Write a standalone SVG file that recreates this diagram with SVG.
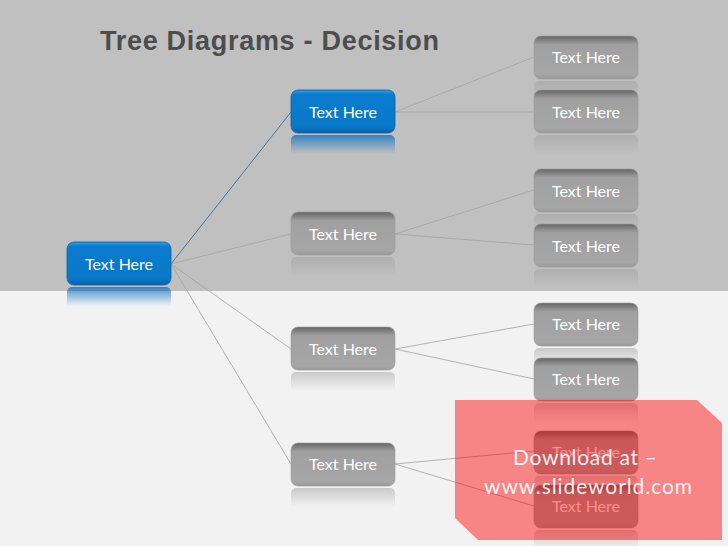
<svg xmlns="http://www.w3.org/2000/svg" width="728" height="546" viewBox="0 0 728 546">
<style>
.t{font-family:"Lato","Open Sans","Liberation Sans",sans-serif;font-size:16px;fill:#fff;text-anchor:middle}
.r{font-family:"Lato","Open Sans","Liberation Sans",sans-serif;font-size:16px;fill:url(#rt);text-anchor:middle}
.l{fill:none;stroke:#a2a2a2;stroke-width:.8}
.g{stroke:#9a9a9a;stroke-width:.6;fill:url(#gg)}
.b{stroke:#0b5f9f;stroke-width:.8;fill:url(#bg)}
</style>
<defs>
<linearGradient id="gg" x1="0" y1="0" x2="0" y2="1"><stop offset="0" stop-color="#666"/><stop offset=".2" stop-color="#a0a0a0"/><stop offset=".9" stop-color="#a6a6a6"/><stop offset="1" stop-color="#999"/></linearGradient>
<linearGradient id="bg" x1="0" y1="0" x2="0" y2="1"><stop offset="0" stop-color="#3a9be0"/><stop offset=".1" stop-color="#0a7ccf"/><stop offset=".85" stop-color="#0a78c8"/><stop offset="1" stop-color="#0a62a8"/></linearGradient>
<linearGradient id="gr" x1="0" y1="0" x2="0" y2="1"><stop offset="0" stop-color="#999" stop-opacity=".45"/><stop offset="1" stop-color="#999" stop-opacity="0"/></linearGradient>
<linearGradient id="br" x1="0" y1="0" x2="0" y2="1"><stop offset="0" stop-color="#0a6cb8" stop-opacity=".75"/><stop offset="1" stop-color="#0a78c8" stop-opacity="0"/></linearGradient>
<linearGradient id="rt" x1="0" y1="1" x2="0" y2="0"><stop offset="0" stop-color="#fff" stop-opacity=".9"/><stop offset="1" stop-color="#fff" stop-opacity=".1"/></linearGradient>
<path id="rf" d="M0 19V5a5 5 0 0 1 5-5H99a5 5 0 0 1 5 5V19Z"/>
<clipPath id="c1"><rect x="67" y="286" width="104" height="20"/></clipPath>
<clipPath id="c2"><rect x="291" y="134" width="104" height="20"/></clipPath>
</defs>
<rect width="728" height="291" fill="#c0c0c0"/>
<rect y="291" width="728" height="255" fill="#f2f2f2"/>
<text id="title" x="100" y="50" font-family="Liberation Sans,Arial,sans-serif" font-size="27" font-weight="700" fill="#4d4d4d" textLength="339">Tree Diagrams - Decision</text>
<g id="connectors">
<path d="M171 264L291 112" fill="none" stroke="#3f6a94" stroke-width=".9"/>
<path class="l" d="M171 264L291 234M171 264L291 349M171 264L291 464M395 112L534 57M395 112H534M395 234L534 190M395 234L534 245M395 349L534 324M395 349L534 379M395 464L534 451M395 464L534 506"/>
</g>
<g id="n1"><use href="#rf" x="67" y="287" fill="url(#br)"/><text class="r" clip-path="url(#c1)" transform="translate(0,578) scale(1,-1)" x="119" y="270">Text Here</text><rect class="b" x="67" y="242" width="104" height="43" rx="7"/><text class="t" x="119" y="270">Text Here</text></g>
<g id="n2"><use href="#rf" x="291" y="135" fill="url(#br)"/><text class="r" clip-path="url(#c2)" transform="translate(0,274) scale(1,-1)" x="343" y="119">Text Here</text><rect class="b" x="291" y="90" width="104" height="43" rx="7"/><text class="t" x="343" y="118">Text Here</text></g>
<g id="n3"><use href="#rf" x="291" y="257" fill="url(#gr)"/><rect class="g" x="291" y="212" width="104" height="43" rx="7"/><text class="t" x="343" y="240">Text Here</text></g>
<g id="n4"><use href="#rf" x="291" y="372" fill="url(#gr)"/><rect class="g" x="291" y="327" width="104" height="43" rx="7"/><text class="t" x="343" y="355">Text Here</text></g>
<g id="n5"><use href="#rf" x="291" y="488" fill="url(#gr)"/><rect class="g" x="291" y="443" width="104" height="43" rx="7"/><text class="t" x="343" y="470">Text Here</text></g>
<g id="n6"><use href="#rf" x="534" y="81" fill="url(#gr)"/><rect class="g" x="534" y="36" width="104" height="43" rx="7"/><text class="t" x="586" y="63">Text Here</text></g>
<g id="n7"><use href="#rf" x="534" y="135" fill="url(#gr)"/><rect class="g" x="534" y="90" width="104" height="43" rx="7"/><text class="t" x="586" y="118">Text Here</text></g>
<g id="n8"><use href="#rf" x="534" y="214" fill="url(#gr)"/><rect class="g" x="534" y="169" width="104" height="43" rx="7"/><text class="t" x="586" y="197">Text Here</text></g>
<g id="n9"><use href="#rf" x="534" y="269" fill="url(#gr)"/><rect class="g" x="534" y="224" width="104" height="43" rx="7"/><text class="t" x="586" y="252">Text Here</text></g>
<g id="n10"><use href="#rf" x="534" y="348" fill="url(#gr)"/><rect class="g" x="534" y="303" width="104" height="43" rx="7"/><text class="t" x="586" y="330">Text Here</text></g>
<g id="n11"><use href="#rf" x="534" y="403" fill="url(#gr)"/><rect class="g" x="534" y="358" width="104" height="43" rx="7"/><text class="t" x="586" y="385">Text Here</text></g>
<g id="n12"><use href="#rf" x="534" y="476" fill="url(#gr)"/><rect class="g" x="534" y="431" width="104" height="43" rx="7"/><text class="t" x="586" y="458">Text Here</text></g>
<g id="n13"><use href="#rf" x="534" y="530" fill="url(#gr)"/><rect class="g" x="534" y="485" width="104" height="43" rx="7"/><text class="t" x="586" y="512">Text Here</text></g>
<g id="banner">
<path d="M455 400H697L722 423V540H478L455 518Z" fill="#f00" fill-opacity=".45"/>
<text x="585" y="465" font-family="Lato,Open Sans,Liberation Sans,sans-serif" font-size="21" fill="#fff" fill-opacity=".92" text-anchor="middle" textLength="144">Download at –</text>
<text x="588" y="494" font-family="Lato,Open Sans,Liberation Sans,sans-serif" font-size="21" fill="#fff" fill-opacity=".92" text-anchor="middle" textLength="208">www.slideworld.com</text>
</g>
</svg>
